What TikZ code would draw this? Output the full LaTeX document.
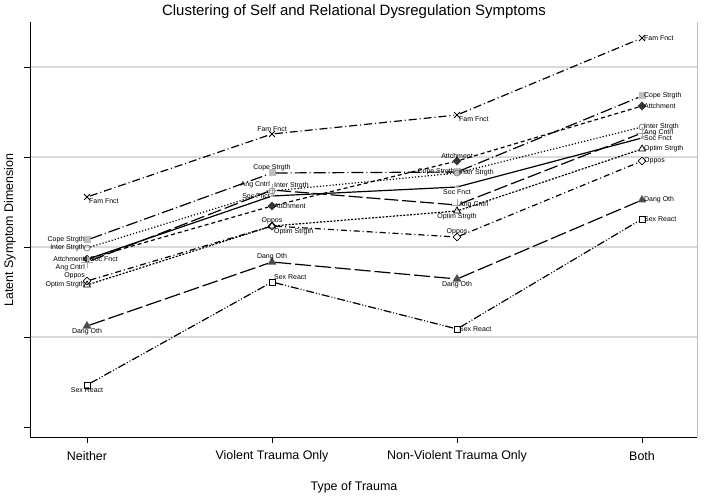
\documentclass[tikz,border=0pt]{standalone}
\usepackage{fontspec}
\setmainfont{Liberation Sans}
\usetikzlibrary{shapes.geometric,shapes.misc}
\tikzset{
  lbl/.style={font=\fontsize{7}{8}\selectfont, inner sep=2pt},
  mk/.style={inner sep=0pt, minimum size=6bp},
  mkx/.style={mk, cross out, draw, thick, minimum size=5bp},
  mksq/.style={mk, rectangle, fill=lightgray, minimum size=7bp},
  mkdia/.style={mk, diamond, fill=black!80, minimum size=9bp},
  mkcirc/.style={mk, circle, draw=gray, thick, minimum size=6bp},
  mkplus/.style={mk, cross out, rotate=45, draw=gray!70, thick, minimum size=7bp},
  mksoc/.style={mk, rectangle, fill=gray!60, minimum size=3bp},
  mkodia/.style={mk, diamond, draw, thick, minimum size=8bp},
  mktri/.style={mk, regular polygon, regular polygon sides=3, draw, thick, minimum size=8bp},
  mkftri/.style={mk, regular polygon, regular polygon sides=3, fill=black!70, minimum size=10bp},
  mkosq/.style={mk, rectangle, draw, thick, minimum size=6bp},
  ser/.style={line width=1.2pt}
}
\begin{document}
\begin{tikzpicture}[x=1bp,y=-1bp,line join=round,>=latex]
  \useasboundingbox (0,0) rectangle (709,498);
  \fill[white] (0,0) rectangle (709,498);
  % grid and axes
  \foreach \i in {67,157,247,337} {
      \draw [color=black!15, line width=1.2pt] (30,\i) -- (697,\i);
    }
  \foreach \i in {67,157,247,337,427} {
      \draw (24,\i) -- (30,\i);
    }
  \draw (30,22) -- (30,437) -- (697,437);
  \draw [color=black!25] (697,22) -- (697,437);
  \foreach \x/\t in {87/Neither,272/Violent Trauma Only,457/Non-Violent Trauma Only,642/Both} {
      \draw (\x,437) -- (\x,443);
      \node[font=\fontsize{12.5}{14}\selectfont] (cat\x) at (\x,456) {\t};
    }
  \node[font=\fontsize{15}{17}\selectfont] (title) at (354,12) {Clustering of Self and Relational Dysregulation Symptoms};
  \node[font=\fontsize{12.5}{14}\selectfont] (xlab) at (354,487) {Type of Trauma};
  \node[font=\fontsize{12.5}{14}\selectfont, rotate=90] (ylab) at (10,230) {Latent Symptom Dimension};

  % Fam Fnct
  \node[mkx] (fa) at (87,197) {}; \node[mkx] (fb) at (272,134) {};
  \node[mkx] (fc) at (457,115) {}; \node[mkx] (fd) at (642,38) {};
  \draw[ser, dash pattern=on 8pt off 3pt on 1pt off 3pt] (fa) -- (fb) -- (fc) -- (fd);
  \node[lbl, below right] at (fa) {Fam Fnct};
  \node[lbl, above] at (fb) {Fam Fnct};
  \node[lbl, below right] at (fc) {Fam Fnct};
  \node[lbl, right] at (fd) {Fam Fnct};
  % Cope Strgth
  \node[mksq] (ca) at (87,240) {}; \node[mksq] (cb) at (272,173) {};
  \node[mksq] (cc) at (457,172) {}; \node[mksq] (cd) at (642,96) {};
  \draw[ser, dash pattern=on 12pt off 3pt on 1pt off 3pt] (ca) -- (cb) -- (cc) -- (cd);
  \node[lbl, left] at (ca) {Cope Strgth};
  \node[lbl, above] at (cb) {Cope Strgth};
  \node[lbl, left] at (cc) {Cope Strgth};
  \node[lbl, right] at (cd) {Cope Strgth};
  % Attchment
  \node[mkdia] (aa) at (87,259) {}; \node[mkdia] (ab) at (272,206) {};
  \node[mkdia] (ac) at (457,161) {}; \node[mkdia] (ad) at (642,106) {};
  \draw[ser, dash pattern=on 4pt off 3pt] (aa) -- (ab) -- (ac) -- (ad);
  \node[lbl, left] at (aa) {Attchment};
  \node[lbl, right] at (ab) {Attchment};
  \node[lbl, above] at (ac) {Attchment};
  \node[lbl, right] at (ad) {Attchment};
  % Inter Strgth
  \node[mkcirc] (ia) at (87,248) {}; \node[mkcirc] (ib) at (272,191) {};
  \node[mkcirc] (ic) at (457,173) {}; \node[mkcirc] (id) at (642,127) {};
  \draw[ser, dotted] (ia) -- (ib) -- (ic) -- (id);
  \node[lbl, left] at (ia) {Inter Strgth};
  \node[lbl, above right] at (ib) {Inter Strgth};
  \node[lbl, right] at (ic) {Inter Strgth};
  \node[lbl, right] at (id) {Inter Strgth};
  % Ang Cntrl
  \node[mkplus] (na) at (87,262) {}; \node[mkplus] (nb) at (272,190) {};
  \node[mkplus] (nc) at (457,205) {}; \node[mkplus] (nd) at (642,133) {};
  \draw[ser, dash pattern=on 14pt off 4pt] (na) -- (nb) -- (nc) -- (nd);
  \node[lbl, below left] at (na) {Ang Cntrl};
  \node[lbl, above left] at (nb) {Ang Cntrl};
  \node[lbl, right] at (nc) {Ang Cntrl};
  \node[lbl, right] at (nd) {Ang Cntrl};
  % Soc Fnct
  \node[mksoc] (sa) at (88,259) {}; \node[mksoc] (sb) at (272,196) {};
  \node[mksoc] (sc) at (457,187) {}; \node[mksoc] (sd) at (642,138) {};
  \draw[ser] (sa) -- (sb) -- (sc) -- (sd);
  \node[lbl, right] at (sa) {Soc Fnct};
  \node[lbl, left] at (sb) {Soc Fnct};
  \node[lbl, below] at (sc) {Soc Fnct};
  \node[lbl, right] at (sd) {Soc Fnct};
  % Oppos
  \node[mkodia] (oa) at (87,281) {}; \node[mkodia] (ob) at (272,226) {};
  \node[mkodia] (oc) at (457,237) {}; \node[mkodia] (od) at (642,161) {};
  \draw[ser, dash pattern=on 6pt off 3pt on 1pt off 3pt] (oa) -- (ob) -- (oc) -- (od);
  \node[lbl, above left] at (oa) {Oppos};
  \node[lbl, above] at (ob) {Oppos};
  \node[lbl, above] at (oc) {Oppos};
  \node[lbl, right] at (od) {Oppos};
  % Optim Strgth
  \node[mktri] (pa) at (87,285) {}; \node[mktri] (pb) at (272,226) {};
  \node[mktri] (pc) at (457,211) {}; \node[mktri] (pd) at (642,149) {};
  \draw[ser, dash pattern=on 2pt off 1.5pt] (pa) -- (pb) -- (pc) -- (pd);
  \node[lbl, left] at (pa) {Optim Strgth};
  \node[lbl, below right] at (pb) {Optim Strgth};
  \node[lbl, below] at (pc) {Optim Strgth};
  \node[lbl, right] at (pd) {Optim Strgth};
  % Dang Oth
  \node[mkftri] (da) at (87,326) {}; \node[mkftri] (db) at (272,262) {};
  \node[mkftri] (dc) at (457,279) {}; \node[mkftri] (dd) at (642,200) {};
  \draw[ser, dash pattern=on 16pt off 4pt] (da) -- (db) -- (dc) -- (dd);
  \node[lbl, below] at (da) {Dang Oth};
  \node[lbl, above] at (db) {Dang Oth};
  \node[lbl, below] at (dc) {Dang Oth};
  \node[lbl, right] at (dd) {Dang Oth};
  % Sex React
  \node[mkosq] (ra) at (87,385) {}; \node[mkosq] (rb) at (272,282) {};
  \node[mkosq] (rc) at (457,329) {}; \node[mkosq] (rd) at (642,219) {};
  \draw[ser, dash pattern=on 8pt off 2pt on 1pt off 2pt on 1pt off 2pt] (ra) -- (rb) -- (rc) -- (rd);
  \node[lbl, below] at (ra) {Sex React};
  \node[lbl, above right] at (rb) {Sex React};
  \node[lbl, right] at (rc) {Sex React};
  \node[lbl, right] at (rd) {Sex React};
\end{tikzpicture}
\end{document}
